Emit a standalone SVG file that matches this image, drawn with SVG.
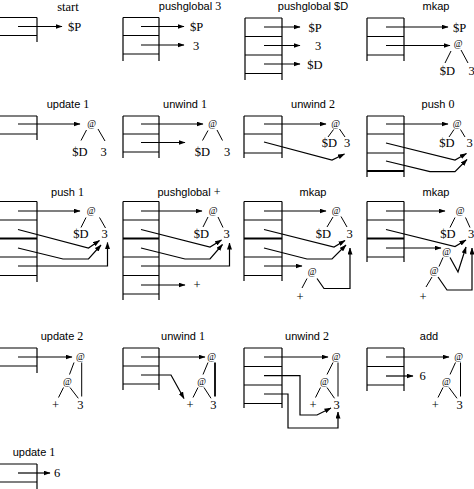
<svg xmlns="http://www.w3.org/2000/svg" width="474" height="489" viewBox="0 0 474 489">
<style>
.bg{fill:#fff}
.box{fill:none;stroke:#000;stroke-width:1.2}
.thk{fill:none;stroke:#000;stroke-width:2.2}
.ptr{fill:none;stroke:#000;stroke-width:1.2;marker-end:url(#ah)}
.edge{fill:none;stroke:#000;stroke-width:1}
.t{font-family:"Liberation Sans",Arial,sans-serif;font-size:11px;text-anchor:middle;fill:#000}
.s{font-family:"Liberation Serif","Times New Roman",serif;font-size:12px}
.st{font-family:"Liberation Serif","Times New Roman",serif;font-size:12.5px;text-anchor:middle;fill:#000}
.lbl{font-family:"Liberation Serif","Times New Roman",serif;font-size:12.5px;text-anchor:middle;fill:#000}
.at{font-family:"Liberation Serif","Times New Roman",serif;font-size:9.5px;text-anchor:middle;fill:#000}
</style>
<defs>
<marker id="ah" markerWidth="7" markerHeight="5" refX="6.5" refY="2.5" orient="auto" markerUnits="userSpaceOnUse"><path d="M0,0L7,2.5L0,5z" fill="#000"/></marker>
</defs>
<rect class="bg" width="474" height="489"/>

<g id="p1">
<text class="st" x="68" y="10.5">start</text>
<path class="box" d="M-1,17.5H37M-1,35.5H37M37,17.5V42"/>
<text class="lbl" x="74.5" y="31">$P</text>
<g class="connectors"><path class="ptr" d="M18,26.5H62"/></g>
</g>

<g id="p2">
<text class="t" x="190" y="10">pushglobal <tspan class="s">3</tspan></text>
<path class="box" d="M123,17.5V61M159,17.5V61M123,17.5H159M123,35.5H159M123,54H159"/>
<text class="lbl" x="196.5" y="31">$P</text>
<text class="lbl" x="196" y="49.5">3</text>
<g class="connectors"><path class="ptr" d="M141,26.5H184"/><path class="ptr" d="M141,45H184"/></g>
</g>

<g id="p3">
<text class="t" x="313" y="10">pushglobal $D</text>
<path class="box" d="M245,18V80M282,18V80M245,18H282M245,36.5H282M245,55H282M245,73.5H282"/>
<text class="lbl" x="315" y="31.5">$P</text>
<text class="lbl" x="318" y="50">3</text>
<text class="lbl" x="315" y="68.5">$D</text>
<g class="connectors"><path class="ptr" d="M264,27H300"/><path class="ptr" d="M264,45.5H300"/><path class="ptr" d="M264,64H300"/></g>
</g>

<g id="p4">
<text class="t" x="436" y="10">mkap</text>
<path class="box" d="M367,18V61M404,18V61M367,18H404M367,36.5H404M367,55H404"/>
<text class="lbl" x="459.5" y="31.5">$P</text>
<text class="at" x="458" y="46.8">@</text>
<text class="lbl" x="447.5" y="74.5">$D</text>
<text class="lbl" x="471.5" y="74.5">3</text>
<g class="connectors"><path class="ptr" d="M386,27H448"/><path class="ptr" d="M386,45.5H450"/>
<path class="edge" d="M451,51L445,63M461,50L468,63"/></g>
</g>

<g id="p5">
<text class="t" x="68" y="108">update <tspan class="s">1</tspan></text>
<path class="box" d="M37,116V140M-1,116H37M-1,134H37"/>
<text class="at" x="91.5" y="126.8">@</text>
<text class="lbl" x="80" y="156.2">$D</text>
<text class="lbl" x="103.5" y="156.2">3</text>
<g class="connectors"><path class="ptr" d="M18,124H80"/>
<path class="edge" d="M86.5,130L81,140.5M98,129L105,141"/></g>
</g>

<g id="p6">
<text class="t" x="185" y="108">unwind <tspan class="s">1</tspan></text>
<path class="box" d="M123,116V158M159,116V158M123,116H159M123,134H159M123,152H159"/>
<text class="at" x="212.7" y="126.8">@</text>
<text class="lbl" x="202.5" y="156.2">$D</text>
<text class="lbl" x="227" y="156.2">3</text>
<g class="connectors"><path class="ptr" d="M141,124H203"/><path class="ptr" d="M141,142.5H185"/>
<path class="edge" d="M208,130.5L202.5,140.5M217,130L222.5,140.5"/></g>
</g>

<g id="p7">
<text class="t" x="313" y="108">unwind <tspan class="s">2</tspan></text>
<path class="box" d="M244,116V158M282,116V158M244,116H282M244,134H282M244,153H282"/>
<text class="at" x="335.5" y="126.8">@</text>
<text class="lbl" x="329.5" y="146.5">$D</text>
<text class="lbl" x="347" y="146.5">3</text>
<g class="connectors"><path class="ptr" d="M264,124H326"/>
<path class="ptr" d="M264,142L332,160L344.5,154"/>
<path class="edge" d="M333.5,129.5L328,137M339.5,129L345,137"/></g>
</g>

<g id="p8">
<text class="t" x="438" y="108">push <tspan class="s">0</tspan></text>
<path class="box" d="M367,116V177M404,116V177M367,116H404M367,134H404M367,153H404"/>
<path class="thk" d="M367,171H404"/>
<text class="at" x="457" y="126.8">@</text>
<text class="lbl" x="447" y="146.5">$D</text>
<text class="lbl" x="469.5" y="146.5">3</text>
<g class="connectors"><path class="ptr" d="M386,124H448"/>
<path class="ptr" d="M386,143L455,160L466.5,153.5"/>
<path class="ptr" d="M386,161L430,171.7H455L467,159.5"/>
<path class="edge" d="M454,129.5L449,137M460.5,129.5L465,137"/></g>
</g>

<g id="p9">
<text class="t" x="67.5" y="195.5">push <tspan class="s">1</tspan></text>
<path class="box" d="M37,201.5V282M-1,201.5H37M-1,220H37M-1,257H37M-1,275.5H37"/>
<path class="thk" d="M-1,238.5H37"/>
<text class="at" x="91" y="213.8">@</text>
<text class="lbl" x="81" y="237.7">$D</text>
<text class="lbl" x="104.5" y="237.7">3</text>
<g class="connectors"><path class="ptr" d="M18,211H80"/>
<path class="ptr" d="M18,229.5L88.5,248L99.5,240.5"/>
<path class="ptr" d="M18,248L63,259H88.5L101,245"/>
<path class="ptr" d="M18,266H107.5V242.5"/>
<path class="edge" d="M86,217.5L81,227.5M99.5,217.5L105.5,228"/></g>
</g>

<g id="p10">
<text class="t" x="189" y="195.5">pushglobal <tspan class="s">+</tspan></text>
<path class="box" d="M123,201.5V300M159,201.5V300M123,201.5H159M123,220H159M123,257H159M123,275.5H159M123,294H159"/>
<path class="thk" d="M123,238.5H159"/>
<text class="at" x="213" y="213.8">@</text>
<text class="lbl" x="201.5" y="237.7">$D</text>
<text class="lbl" x="226.5" y="237.7">3</text>
<text class="lbl" x="197" y="289">+</text>
<g class="connectors"><path class="ptr" d="M141,211H202"/>
<path class="ptr" d="M141,229.5L210,247L221.5,240"/>
<path class="ptr" d="M141,248L185,259H210L222.5,244.5"/>
<path class="ptr" d="M141,266H229.5V243"/>
<path class="ptr" d="M141,285H185"/>
<path class="edge" d="M208,217L203,227M218,217L223,227.5"/></g>
</g>

<g id="p11">
<text class="t" x="313" y="195.5">mkap</text>
<path class="box" d="M244,201.5V281M282,201.5V281M244,201.5H282M244,220H282M244,257H282M244,275.5H282"/>
<path class="thk" d="M244,238.5H282"/>
<text class="at" x="336" y="213.8">@</text>
<text class="lbl" x="323.5" y="237.7">$D</text>
<text class="lbl" x="349.5" y="237.7">3</text>
<text class="at" x="312" y="275.3">@</text>
<text class="lbl" x="300" y="301">+</text>
<g class="connectors"><path class="ptr" d="M264,211H326"/>
<path class="ptr" d="M264,229.5L334,247L345,240.5"/>
<path class="ptr" d="M264,248L307,259H332L346,245"/>
<path class="ptr" d="M264,266H302"/>
<path class="ptr" d="M317,278.5L324,288.5H350V248"/>
<path class="edge" d="M333,217L327,227M341,216.5L347,227M307,278.5L302,288"/></g>
</g>

<g id="p12">
<text class="t" x="436" y="195.5">mkap</text>
<path class="box" d="M367,201.5V262M404,201.5V262M367,201.5H404M367,220H404M367,257H404"/>
<path class="thk" d="M367,238.5H404"/>
<text class="at" x="460" y="213.8">@</text>
<text class="lbl" x="448" y="237.7">$D</text>
<text class="lbl" x="471" y="237.7">3</text>
<text class="at" x="446.5" y="254.8">@</text>
<text class="at" x="434" y="274.3">@</text>
<text class="lbl" x="423" y="301">+</text>
<g class="connectors"><path class="ptr" d="M386,211H445"/>
<path class="ptr" d="M386,229.5L455,246.5L466,240"/>
<path class="ptr" d="M386,248H441"/>
<path class="ptr" d="M450,257.5L458,272L466,247"/>
<path class="ptr" d="M438,277L447,290H472V248"/>
<path class="edge" d="M455,217.5L450,227.5M465.5,217.5L470,227.5M443,257.5L439,266.5M432,277L426,287"/></g>
</g>

<g id="p13">
<text class="t" x="62" y="340">update <tspan class="s">2</tspan></text>
<path class="box" d="M37,348V373M-1,348H37M-1,366H37"/>
<text class="at" x="80.3" y="359.8">@</text>
<text class="at" x="67.3" y="384.5">@</text>
<text class="lbl" x="55.5" y="409">+</text>
<text class="lbl" x="80.3" y="409.2">3</text>
<g class="connectors"><path class="ptr" d="M18,357H72"/>
<path class="edge" d="M74,362.5L69.5,374.5M81.7,362.5V396.5M63.5,387.5L58.5,397.5M70,387.5L78.3,398.3"/></g>
</g>

<g id="p14">
<text class="t" x="183" y="340">unwind <tspan class="s">1</tspan></text>
<path class="box" d="M123,348V390M159,348V390M123,348H159M123,366H159M123,384H159"/>
<text class="at" x="211.7" y="359.8">@</text>
<text class="at" x="201.7" y="384.8">@</text>
<text class="lbl" x="190" y="409">+</text>
<text class="lbl" x="213.3" y="409.2">3</text>
<g class="connectors"><path class="ptr" d="M141,357H205"/>
<path class="ptr" d="M141,375H171L184,398.5"/>
<path class="edge" d="M208,362.5L203,374.5M198,387.5L193,397.5M204,387.5L211,398.3"/>
<path class="thk" style="stroke-width:1.8" d="M215,362.5V396.5"/></g>
</g>

<g id="p15">
<text class="t" x="307" y="340">unwind <tspan class="s">2</tspan></text>
<path class="box" d="M244,348V408M282,348V408M244,348H282M244,366.5H282M244,385H282M244,403.5H282"/>
<text class="at" x="336" y="359.8">@</text>
<text class="at" x="324.3" y="384.8">@</text>
<text class="lbl" x="313" y="409">+</text>
<text class="lbl" x="336.5" y="409.2">3</text>
<g class="connectors"><path class="ptr" d="M264,357H328"/>
<path class="ptr" d="M264,375.7H300V415H317L331,408"/>
<path class="ptr" d="M264,394H288V428H338V412"/>
<path class="edge" d="M333,362.5L327,374.5M338,362.5V396.5M320.5,387.5L315.5,397.5M327,387.5L334.5,398.3"/></g>
</g>

<g id="p16">
<text class="t" x="429" y="340">add</text>
<path class="box" d="M367,348V391M404,348V391M367,348H404M367,366.5H404M367,385H404"/>
<text class="at" x="458.7" y="359.8">@</text>
<text class="at" x="446.3" y="384.8">@</text>
<text class="lbl" x="435.3" y="409">+</text>
<text class="lbl" x="459.5" y="409.2">3</text>
<text class="lbl" x="422.5" y="380.2">6</text>
<g class="connectors"><path class="ptr" d="M386,357H449"/>
<path class="ptr" d="M386,376H413"/>
<path class="edge" d="M455.5,362.5L450,374.5M460.5,362.5V396.5M443,387.5L438,397.5M449,387.5L457,398.3"/></g>
</g>

<g id="p17">
<text class="t" x="34" y="455.5">update <tspan class="s">1</tspan></text>
<path class="box" d="M37,464V490M-1,464H37M-1,482H37"/>
<text class="lbl" x="57" y="477.2">6</text>
<g class="connectors"><path class="ptr" d="M18,473H50"/></g>
</g>
</svg>
